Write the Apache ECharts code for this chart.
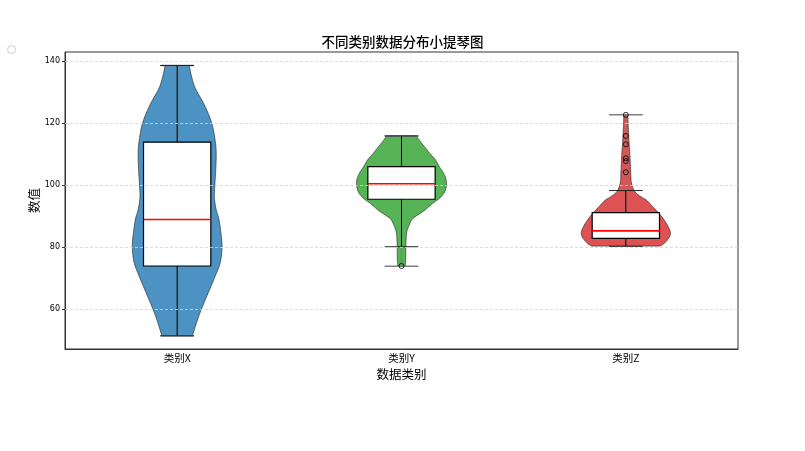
<!DOCTYPE html>
<html>
<head>
<meta charset="utf-8">
<script src="https://cdn.jsdelivr.net/npm/echarts@6/dist/echarts.min.js"></script>
<style>html,body{margin:0;padding:0;background:#fff;}#chart{width:805px;height:451px;}</style>
</head>
<body>
<div id="chart"></div>
<script>
// ---- data ----
const categories = ['类别X', '类别Y', '类别Z'];
const yTicks = [60, 80, 100, 120, 140];
// violin outline: [value, relative half-width (1 = widest)]
const violinX = [[51.4,0.34],[56,0.44],[60,0.54],[64.5,0.67],[70,0.83],[75,0.96],[80,1.0],[84,0.98],[89,0.93],[92,0.87],[96,0.83],[100,0.84],[105,0.86],[110,0.87],[114,0.85],[120,0.77],[126,0.6],[131,0.41],[135,0.32],[138.5,0.27]];
const violinY = [[73.8,0.08],[75,0.09],[78,0.095],[82,0.10],[85,0.12],[87,0.17],[89,0.24],[90.5,0.38],[92,0.53],[94,0.69],[96,0.87],[98,0.97],[100,1.0],[102,0.99],[104,0.93],[106,0.84],[108,0.76],[110,0.64],[112,0.53],[114,0.42],[115.8,0.33]];
const violinZ = [[80.3,0.76],[81,0.84],[82,0.91],[83.5,0.98],[85,0.99],[87,0.93],[89,0.84],[91,0.73],[93,0.6],[95,0.47],[96,0.36],[97.5,0.22],[99,0.16],[101,0.12],[104,0.11],[107,0.1],[110,0.09],[113,0.075],[117,0.06],[120,0.05],[122.6,0.045]];
// box stats: [lower whisker, Q1, median, Q3, upper whisker]
const boxX = [51.4, 73.9, 88.9, 113.8, 138.5];
const boxY = [80.1, 95.4, 100.4, 105.9, 115.8];
const boxZ = [80.3, 82.8, 85.2, 91.1, 98.2];
const outliersX = [];
const outliersY = [73.9];
const outliersZ = [104.1, 107.7, 108.6, 113.1, 115.8, 122.6];
const violinColors = ['#4c92c3', '#56b356', '#de5253'];

const violins = [violinX, violinY, violinZ];
const boxes = [boxX, boxY, boxZ];
const outliers = [outliersX, outliersY, outliersZ];

function catmull(pts, seg) {
  const out = [];
  for (let i = 0; i < pts.length - 1; i++) {
    const p0 = pts[Math.max(0, i - 1)], p1 = pts[i], p2 = pts[i + 1], p3 = pts[Math.min(pts.length - 1, i + 2)];
    for (let t = 0; t < seg; t++) {
      const s = t / seg, s2 = s * s, s3 = s2 * s;
      out.push([
        0.5 * (2 * p1[0] + (-p0[0] + p2[0]) * s + (2 * p0[0] - 5 * p1[0] + 4 * p2[0] - p3[0]) * s2 + (-p0[0] + 3 * p1[0] - 3 * p2[0] + p3[0]) * s3),
        0.5 * (2 * p1[1] + (-p0[1] + p2[1]) * s + (2 * p0[1] - 5 * p1[1] + 4 * p2[1] - p3[1]) * s2 + (-p0[1] + 3 * p1[1] - 3 * p2[1] + p3[1]) * s3)
      ]);
    }
  }
  out.push(pts[pts.length - 1]);
  return out;
}

function renderItem(params, api) {
  const i = params.dataIndex;
  const band = api.size([1, 0])[0];
  const cx = api.coord([i, 0])[0];
  const Y = v => api.coord([i, v])[1];
  const prof = violins[i];
  const maxHalf = 0.2 * band;
  const right = catmull(prof.map(p => [cx + p[1] * maxHalf, Y(p[0])]), 6);
  const left = right.map(p => [2 * cx - p[0], p[1]]).reverse();
  const poly = right.concat(left);
  const vmin = prof[0][0], vmax = prof[prof.length - 1][0];
  const b = boxes[i];
  const capHalf = 0.075 * band;
  const boxHalf = 0.15 * band;
  const children = [
    { type: 'polygon', shape: { points: poly }, style: { fill: violinColors[i], stroke: 'rgba(40,40,40,0.8)', lineWidth: 0.8 } },
    { type: 'line', shape: { x1: cx, y1: Y(vmin), x2: cx, y2: Y(vmax) }, style: { stroke: '#7f7f7f', lineWidth: 1.2 } },
    { type: 'line', shape: { x1: cx - capHalf, y1: Y(vmin), x2: cx + capHalf, y2: Y(vmin) }, style: { stroke: '#7f7f7f', lineWidth: 1.5 } },
    { type: 'line', shape: { x1: cx - capHalf, y1: Y(vmax), x2: cx + capHalf, y2: Y(vmax) }, style: { stroke: '#7f7f7f', lineWidth: 1.5 } },
    { type: 'line', shape: { x1: cx, y1: Y(b[0]), x2: cx, y2: Y(b[1]) }, style: { stroke: '#000', lineWidth: 1 } },
    { type: 'line', shape: { x1: cx, y1: Y(b[3]), x2: cx, y2: Y(b[4]) }, style: { stroke: '#000', lineWidth: 1 } },
    { type: 'line', shape: { x1: cx - capHalf, y1: Y(b[0]), x2: cx + capHalf, y2: Y(b[0]) }, style: { stroke: '#222', lineWidth: 1 } },
    { type: 'line', shape: { x1: cx - capHalf, y1: Y(b[4]), x2: cx + capHalf, y2: Y(b[4]) }, style: { stroke: '#222', lineWidth: 1 } },
    { type: 'rect', shape: { x: cx - boxHalf, y: Y(b[3]), width: 2 * boxHalf, height: Y(b[1]) - Y(b[3]) }, style: { fill: '#fff', stroke: '#000', lineWidth: 1.2 } },
    { type: 'line', shape: { x1: cx - boxHalf, y1: Y(b[2]), x2: cx + boxHalf, y2: Y(b[2]) }, style: { stroke: '#ff0000', lineWidth: 1.6 } }
  ];
  return { type: 'group', children: children };
}

const outlierData = [];
outliers.forEach((arr, i) => arr.forEach(v => outlierData.push([i, v])));

const chart = echarts.init(document.getElementById('chart'), null, { renderer: 'canvas' });
chart.setOption({
  animation: false,
  backgroundColor: '#fff',
  title: {
    text: '不同类别数据分布小提琴图',
    left: 'center', top: 29,
    textStyle: { fontFamily: 'Noto Sans CJK SC', fontSize: 13.5, fontWeight: 500, color: '#000', lineHeight: 16 }
  },
  graphic: [{ type: 'circle', left: 5, top: 43, shape: { r: 4 }, style: { fill: 'none', stroke: '#ccc', lineWidth: 1 } }],
  grid: { left: 65, right: 67, top: 52, bottom: 102, show: true, borderColor: '#333', borderWidth: 1, backgroundColor: 'transparent' },
  xAxis: {
    type: 'category',
    data: categories,
    boundaryGap: true,
    name: '数据类别', nameLocation: 'middle', nameGap: 19, nameMoveOverlap: false,
    nameTextStyle: { fontFamily: 'Noto Sans CJK SC', fontSize: 12.5, color: '#000' },
    axisLine: { lineStyle: { color: '#333' } },
    axisTick: { alignWithLabel: true, length: 3, lineStyle: { color: '#333' } },
    axisLabel: { fontFamily: 'Noto Sans CJK SC', fontSize: 10.5, color: '#000', margin: 4 },
    splitLine: { show: false }
  },
  yAxis: {
    type: 'value',
    min: 47.15, max: 142.85,
    name: '数值', nameLocation: 'middle', nameGap: 24, nameMoveOverlap: false,
    nameTextStyle: { fontFamily: 'Noto Sans CJK SC', fontSize: 12.5, color: '#000' },
    axisLine: { show: true, lineStyle: { color: '#333' } },
    axisTick: { show: true, length: 3, customValues: yTicks, lineStyle: { color: '#333' } },
    axisLabel: { fontFamily: 'DejaVu Sans', fontSize: 8, color: '#000', margin: 5, customValues: yTicks },
    splitLine: { show: false }
  },
  series: [
    {
      type: 'line', data: [], silent: true,
      markLine: {
        silent: true, symbol: 'none', label: { show: false },
        lineStyle: { color: '#d4d4d4', type: [3, 2], width: 0.8 },
        data: yTicks.map(v => ({ yAxis: v }))
      }
    },
    {
      type: 'custom',
      renderItem: renderItem,
      data: categories.map((c, i) => [i, boxes[i][2]]),
      encode: { x: 0, y: 1 },
      z: 3
    },
    {
      type: 'scatter',
      data: outlierData,
      symbol: 'circle', symbolSize: 5,
      itemStyle: { color: 'rgba(0,0,0,0)', borderColor: '#000', borderWidth: 1 },
      z: 5
    }
  ]
});
</script>
</body>
</html>
